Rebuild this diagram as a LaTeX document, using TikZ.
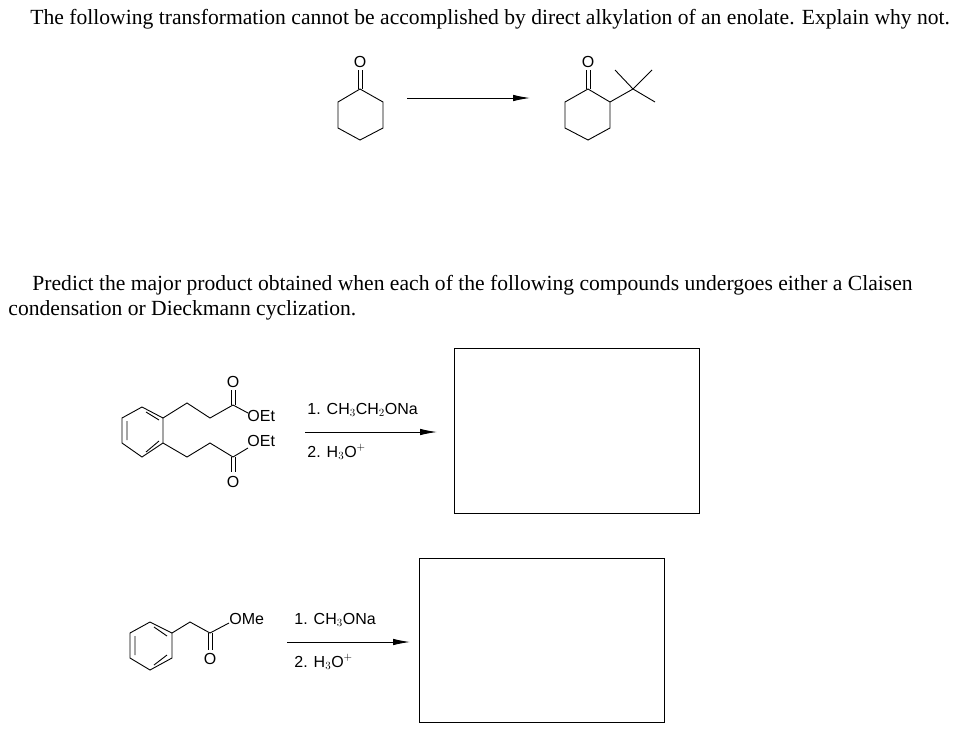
\documentclass[tikz,border=0pt]{standalone}
\usepackage{fontspec}
\setmainfont{Liberation Serif}
\newfontfamily\chem{Liberation Sans}
\usetikzlibrary{arrows.meta}
\begin{document}
\begin{tikzpicture}[x=1pt,y=-1pt,line width=0.9pt,
  txt/.style={font=\fontsize{21.6}{26}\selectfont,inner sep=0,anchor=base west},
  lab/.style={font=\chem\fontsize{16}{19}\selectfont,inner sep=1pt},
  rxn/.style={-{Latex[length=17pt,width=6.5pt]},line width=0.9pt},
  bx/.style={draw,line width=0.9pt}]
\useasboundingbox (0,0) rectangle (955,729);
\node[txt] (t1) at (30,24) {The following transformation cannot be accomplished by direct alkylation of an enolate. Explain why not.};
\node[txt] (t2) at (32,290) {Predict the major product obtained when each of the following compounds undergoes either a Claisen};
\node[txt] (t3) at (8,315) {condensation or Dieckmann cyclization.};
% cyclohexanone
\draw (360,89)--(383,102)--(383,128)--(360,140)--(338,128)--(338,102)--cycle;
\node[lab] (o1) at (360,62) {O};
\draw (358,89)--(358,70) (362,89)--(362,70);
\coordinate (a1) at (407,98); \coordinate (a2) at (530,98);
\draw[rxn] (a1)--(a2);
% product
\draw (588,89)--(610,102)--(610,128)--(588,140)--(565,128)--(565,102)--cycle;
\node[lab] (o2) at (588,62) {O};
\draw (586,89)--(586,70) (590,89)--(590,70);
\draw (610,102)--(633,89) (633,89)--(615,70) (633,89)--(652,70) (633,89)--(655,102);
% diester
\draw (122,418)--(142,407)--(163,418)--(163,443)--(142,457)--(122,443)--cycle;
\draw (127,421)--(127,440) (146,412)--(159,420) (146,452)--(159,441);
\draw (163,418)--(187,403)--(210,418)--(233,405);
\draw (163,443)--(187,457)--(210,443)--(233,457);
\draw (231,405)--(231,390) (235,405)--(235,390);
\draw (231,457)--(231,472) (235,457)--(235,472);
\node[lab] (o3) at (233,382) {O};
\node[lab] (o4) at (233,482) {O};
\draw (233,405)--(248,413);
\draw (233,457)--(248,448);
\node[lab,anchor=west] (oet1) at (246,416) {OEt};
\node[lab,anchor=west] (oet2) at (246,441) {OEt};
\coordinate (b1) at (305,432); \coordinate (b2) at (437,432);
\draw[rxn] (b1)--(b2);
\node[lab,anchor=west] (r1) at (306,410) {1. CH$_3$CH$_2$ONa};
\node[lab,anchor=west] (r2) at (306,452) {2. H$_3$O$^+$};
\node[bx,minimum width=245,minimum height=165,anchor=north west,inner sep=0] (box1) at (454,348) {};
% ester
\draw (130,633)--(150,622)--(172,633)--(172,658)--(150,670)--(130,658)--cycle;
\draw (135,636)--(135,655) (154,627)--(167,636) (154,665)--(167,655);
\draw (172,633)--(190,622)--(210,633);
\draw (208,633)--(208,650) (212,633)--(212,650);
\node[lab] (o5) at (210,659) {O};
\draw (210,633)--(229,623);
\node[lab,anchor=west] (ome) at (228,619) {OMe};
\coordinate (c1) at (287,642); \coordinate (c2) at (410,642);
\draw[rxn] (c1)--(c2);
\node[lab,anchor=west] (r3) at (293,620) {1. CH$_3$ONa};
\node[lab,anchor=west] (r4) at (293,662) {2. H$_3$O$^+$};
\node[bx,minimum width=245,minimum height=164,anchor=north west,inner sep=0] (box2) at (419,558) {};
\end{tikzpicture}
\end{document}
